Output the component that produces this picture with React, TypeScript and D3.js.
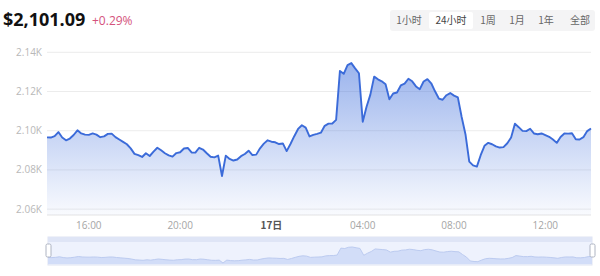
import React from "react";
import * as d3 from "d3";

const priceLabel = "$2,101.09";
const changeLabel = "+0.29%";
const rangeButtons = ["1小时", "24小时", "1周", "1月", "1年", "全部"];
const selectedRange = "24小时";
const yTicks = [2060, 2080, 2100, 2120, 2140];
const xTickHours = [16, 20, 24, 28, 32, 36];

// 10-minute samples, starting 16th 14:10
const prices = [
  2096.6, 2096.5, 2097.2, 2099.3, 2096.5, 2095.1, 2096.0, 2097.8, 2100.2, 2098.6,
  2098.0, 2097.9, 2098.6, 2098.0, 2096.7, 2097.1, 2098.4, 2098.5, 2096.7, 2095.5,
  2094.3, 2093.1, 2091.0, 2088.2, 2087.5, 2086.6, 2088.5, 2087.1, 2089.3, 2091.3,
  2090.0, 2088.5, 2087.4, 2086.8, 2088.6, 2089.0, 2090.9, 2091.2, 2088.9, 2088.8,
  2091.3, 2090.4, 2088.5, 2086.7, 2086.4, 2087.3, 2076.9, 2087.3, 2085.6, 2084.8,
  2085.3, 2087.0, 2088.1, 2089.8, 2087.6, 2087.8, 2091.0, 2093.4, 2095.1, 2094.4,
  2094.1, 2093.2, 2093.5, 2089.6, 2093.2, 2097.2, 2100.9, 2102.8, 2101.6, 2097.1,
  2097.9, 2098.4, 2099.0, 2102.5, 2103.6, 2103.7, 2105.5, 2130.5, 2129.0, 2133.5,
  2134.5, 2131.8, 2129.3, 2104.6, 2112.2, 2118.4, 2127.6, 2126.2, 2125.2, 2123.7,
  2116.0, 2119.0, 2119.5, 2123.1, 2124.0, 2126.5, 2125.2, 2122.6, 2121.2, 2125.1,
  2126.3, 2124.2, 2120.1, 2116.4, 2115.8, 2118.1, 2119.2, 2117.9, 2117.0, 2107.0,
  2098.2, 2084.2, 2082.3, 2081.7, 2087.5, 2092.3, 2093.8, 2093.1, 2092.0, 2091.4,
  2091.6, 2093.6, 2096.5, 2103.6, 2101.8, 2099.9, 2099.8, 2101.0, 2098.6, 2098.2,
  2098.6, 2097.8, 2096.9, 2095.5, 2093.8, 2096.8, 2098.6, 2098.5, 2098.7, 2095.6,
  2095.5, 2096.7, 2099.8, 2101.09,
];

const W = 600;
const H = 276;
const plotLeft = 47;
const plotRight = 591;
const plotTop = 52.3;
const plotBottom = 215;
const navTop = 237;
const navBottom = 265;

const start = new Date(2024, 0, 16, 14, 10);
const stepMs = 10 * 60 * 1000;
const data = prices.map((v, i) => ({ t: new Date(start.getTime() + i * stepMs), v }));
const base = new Date(2024, 0, 16, 0, 0);

export default function App() {
  const x = d3
    .scaleTime()
    .domain([data[0].t, data[data.length - 1].t])
    .range([plotLeft, plotRight]);
  const y = d3.scaleLinear().domain([2057, 2140]).range([plotBottom, plotTop]);

  const line = d3
    .line<{ t: Date; v: number }>()
    .x((d) => x(d.t))
    .y((d) => y(d.v));
  const area = d3
    .area<{ t: Date; v: number }>()
    .x((d) => x(d.t))
    .y0(plotBottom)
    .y1((d) => y(d.v));

  const ext = d3.extent(prices) as [number, number];
  const ny = d3.scaleLinear().domain(ext).range([263, 247]);
  const navArea = d3
    .area<{ t: Date; v: number }>()
    .x((d) => x(d.t))
    .y0(navBottom - 1)
    .y1((d) => ny(d.v));
  const navLine = d3
    .line<{ t: Date; v: number }>()
    .x((d) => x(d.t))
    .y((d) => ny(d.v));

  const fmtY = (v: number) => (v / 1000).toFixed(2) + "K";
  const xTicks = xTickHours.map((h) => new Date(base.getTime() + h * 3600 * 1000));
  const fmtX = (d: Date) =>
    d.getHours() === 0 ? d.getDate() + "日" : d3.timeFormat("%H:%M")(d);

  const btnCenters = [409, 451, 488, 517, 546, 580];

  const font = "'Open Sans', 'Noto Sans CJK SC', sans-serif";

  return (
    <div style={{ position: "absolute", left: 0, top: 0 }}>
      <svg width={W} height={H} style={{ display: "block", fontFamily: font }}>
        <defs>
          <linearGradient id="fillGrad" gradientUnits="userSpaceOnUse" x1="0" y1={plotTop} x2="0" y2={plotBottom}>
            <stop offset="0" stopColor="#3d6ddb" stopOpacity={0.55} />
            <stop offset="1" stopColor="#3d6ddb" stopOpacity={0.03} />
          </linearGradient>
        </defs>
        <rect width={W} height={H} fill="#fff" />

        <text x={3} y={26} fontSize={18} fontWeight={700} fill="#111">
          {priceLabel}
        </text>
        <text x={92} y={25} fontSize={12} fill="#d4527c">
          {changeLabel}
        </text>

        <rect x={390} y={10} width={205} height={21} rx={3} fill="#f4f4f5" />
        <rect x={429} y={12} width={44} height={17} rx={2} fill="#fff" />
        {rangeButtons.map((b, i) => (
          <text
            key={b}
            x={btnCenters[i]}
            y={24}
            fontSize={10}
            textAnchor="middle"
            fill={b === selectedRange ? "#444" : "#666"}
            fontFamily="'Noto Sans CJK SC', sans-serif"
          >
            {b}
          </text>
        ))}

        {yTicks.map((t) => (
          <g key={t}>
            <line x1={plotLeft} x2={plotRight} y1={y(t)} y2={y(t)} stroke="#ececec" strokeWidth={1} />
            <text x={42} y={y(t) + 3.5} fontSize={10} fill="#b8b8b8" textAnchor="end">
              {fmtY(t)}
            </text>
          </g>
        ))}
        <line x1={plotLeft} x2={plotRight} y1={plotBottom} y2={plotBottom} stroke="#e4e4e4" strokeWidth={1} />

        <path d={area(data) || ""} fill="url(#fillGrad)" />
        <path d={line(data) || ""} fill="none" stroke="#3b6bd9" strokeWidth={1.9} strokeLinejoin="round" />

        {xTicks.map((t) => (
          <text
            key={t.getTime()}
            x={x(t)}
            y={229}
            fontSize={10}
            textAnchor="middle"
            fill={t.getHours() === 0 ? "#555" : "#a5a5a5"}
            fontWeight={t.getHours() === 0 ? 700 : 400}
            fontFamily={t.getHours() === 0 ? "'Noto Sans CJK SC', sans-serif" : font}
          >
            {fmtX(t)}
          </text>
        ))}

        <rect x={plotLeft + 1} y={navTop} width={plotRight - plotLeft} height={navBottom - navTop} fill="#eef2fd" stroke="#dfe4f2" />
        <rect x={plotLeft + 1} y={navTop} width={plotRight - plotLeft} height={5} fill="#dfe5f6" />
        <path d={navArea(data) || ""} fill="#d2ddf8" transform="translate(1,0)" />
        <path d={navLine(data) || ""} fill="none" stroke="#bccbf0" strokeWidth={1} transform="translate(1,0)" />
        <rect x={plotLeft - 1} y={244} width={5} height={13} rx={1.5} fill="#fff" stroke="#aeb4c2" />
        <rect x={plotRight - 1} y={244} width={5} height={13} rx={1.5} fill="#fff" stroke="#aeb4c2" />
      </svg>
    </div>
  );
}
